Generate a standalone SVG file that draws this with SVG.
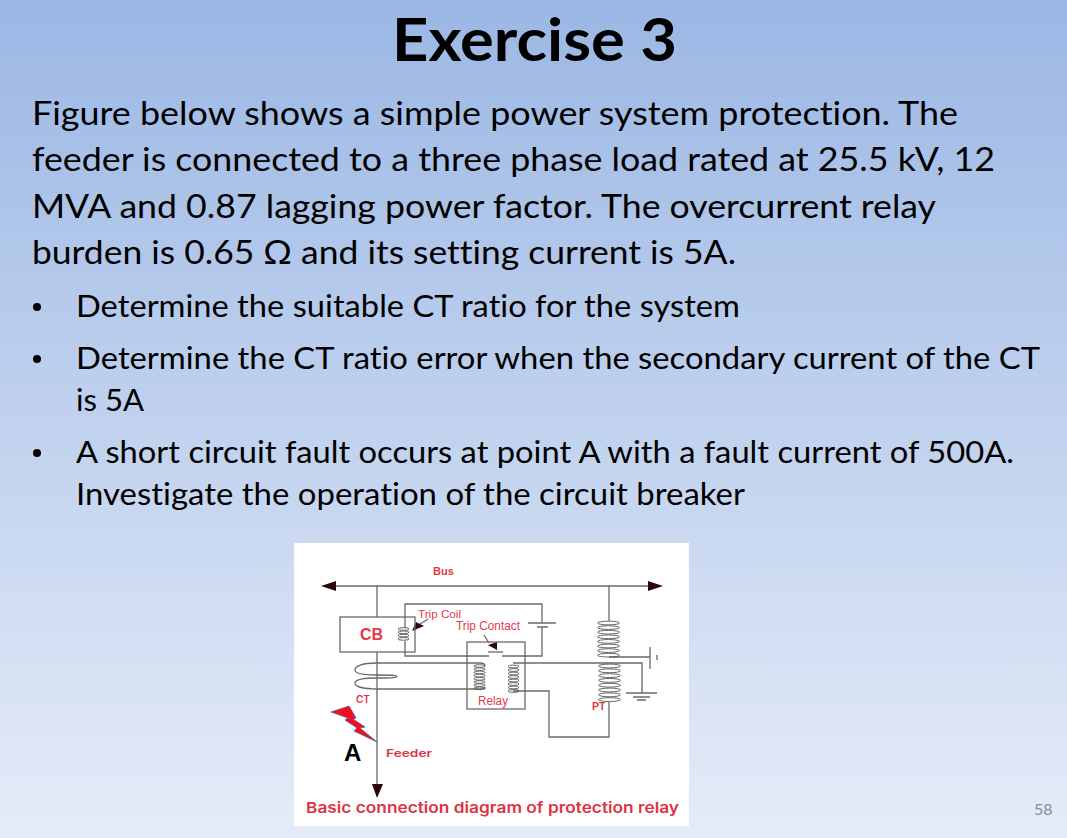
<svg xmlns="http://www.w3.org/2000/svg" width="1067" height="838" viewBox="0 0 1067 838">
<style>
.t{font-family:"Lato","Open Sans",sans-serif;fill:#000;font-variant-ligatures:none}
.b{font-size:33px}
.p{font-size:31px}
.d{font-family:"Liberation Sans",Arial,sans-serif;fill:#e23a45}
.w{font-family:"Inter","DejaVu Sans",sans-serif;font-weight:600;fill:#dd3344}
.l{fill:none;stroke:#6a6a6a;stroke-width:1.3}
ellipse{fill:none;stroke:#555;stroke-width:0.9;vector-effect:non-scaling-stroke}
.h{fill:#2e0508}
</style>
<defs>
<linearGradient id="bg" x1="0" y1="0" x2="0" y2="1"><stop offset="0" stop-color="#9bb7e4"/><stop offset="1" stop-color="#e5ecf8"/></linearGradient>
<g id="turn4"><ellipse cy="0" rx="1" ry="0.4"/><ellipse cy="1" rx="1" ry="0.4"/><ellipse cy="2" rx="1" ry="0.4"/><ellipse cy="3" rx="1" ry="0.4"/></g>
<g id="turn8"><use href="#turn4"/><use href="#turn4" y="4"/></g>
</defs>
<rect width="1067" height="838" fill="url(#bg)"/>
<g id="title"><text class="t" x="392" y="61" font-size="60" font-weight="bold" textLength="285" lengthAdjust="spacingAndGlyphs">Exercise 3</text></g>
<g id="paragraph">
<text class="t b" x="32" y="125" textLength="926" lengthAdjust="spacingAndGlyphs">Figure below shows a simple power system protection. The</text>
<text class="t b" x="32" y="171" textLength="963" lengthAdjust="spacingAndGlyphs">feeder is connected to a three phase load rated at 25.5 kV, 12</text>
<text class="t b" x="32" y="218" textLength="904" lengthAdjust="spacingAndGlyphs">MVA and 0.87 lagging power factor. The overcurrent relay</text>
<text class="t b" x="32" y="264" textLength="704" lengthAdjust="spacingAndGlyphs">burden is 0.65 Ω and its setting current is 5A.</text>
</g>
<g id="bullets">
<circle cx="37" cy="307" r="4"/><circle cx="37" cy="359" r="4"/><circle cx="37" cy="453" r="4"/>
<text class="t p" x="76" y="317" textLength="664" lengthAdjust="spacingAndGlyphs">Determine the suitable CT ratio for the system</text>
<text class="t p" x="76" y="369" textLength="964" lengthAdjust="spacingAndGlyphs">Determine the CT ratio error when the secondary current of the CT</text>
<text class="t p" x="76" y="411" textLength="68" lengthAdjust="spacingAndGlyphs">is 5A</text>
<text class="t p" x="76" y="463" textLength="938" lengthAdjust="spacingAndGlyphs">A short circuit fault occurs at point A with a fault current of 500A.</text>
<text class="t p" x="76" y="505" textLength="669" lengthAdjust="spacingAndGlyphs">Investigate the operation of the circuit breaker</text>
</g>
<rect x="294" y="543" width="395" height="283" fill="#fff"/>
<g id="connectors">
<path class="l" d="M330 586H652"/>
<path class="l" d="M377 586V617M377 652V785"/>
<path class="l" d="M405 628V604H542V623M542 627V656H502M489 656H405V641"/>
<path class="l" d="M377 663H480Q485 663 485 666M377 689H480Q485 689 485 687"/>
<path class="l" d="M513 663H642V693M513 691H549V737H609V702"/>
<path class="l" d="M609 586V621M609 657H650"/>
<path class="l" d="M528 623H556M537 627H548"/>
<path class="l" d="M650 647V669M657 655V660"/>
<path class="l" d="M626 693H657M633 697H650M637 700H646"/>
<path class="l" d="M488 652H503"/>
<path class="h" d="M321 586L336 581V591ZM663 586L648 581V591ZM377 798L372 784H383Z"/>
<path class="h" d="M412 631L416 622 424 626ZM488 645L497 642V650Z"/>
<path class="l" d="M420 624L428 619M489 643L484 635"/>
</g>
<g id="cb"><rect class="l" x="340" y="617" width="75" height="35"/><text class="d" x="360" y="640" font-size="16" font-weight="bold">CB</text></g>
<g id="trip-coil"><use href="#turn4" transform="translate(403.500 629) scale(5.500 3.300)"/><text class="d" x="418" y="618" font-size="11" textLength="43" lengthAdjust="spacingAndGlyphs">Trip Coil</text></g>
<g id="ct"><path class="l" d="M377 663C360 663 355 667 355 670 355 674 365 675 377 675 388 675 397 675 397 676.500 397 678 388 678 377 678 365 678 355 679 355 683 355 687 365 689 377 689"/><text class="w" x="356" y="703" font-size="10" font-weight="bold">CT</text></g>
<g id="relay"><rect class="l" x="467" y="642" width="58" height="67"/>
<use href="#turn8" transform="translate(479.500 666) scale(5.700 3.200)"/><use href="#turn8" transform="translate(513.500 666.500) scale(5.500 3.500)"/>
<text class="d" x="478" y="705" font-size="12" textLength="30" lengthAdjust="spacingAndGlyphs">Relay</text><text class="d" x="456" y="630" font-size="12" textLength="64" lengthAdjust="spacingAndGlyphs">Trip Contact</text></g>
<g id="pt"><use href="#turn8" transform="translate(608.500 623) scale(11 4.600)"/><use href="#turn8" transform="translate(609.500 666) scale(11 4.800)"/><text class="d" x="592" y="710" font-size="10.500" font-weight="bold">PT</text></g>
<g id="bus"><text class="d" x="433" y="575" font-size="11" font-weight="bold">Bus</text></g>
<g id="fault"><polygon points="331,712 349,706 356,718 353,719 365,727 360,728 377,742 354,731 357,728 345,720 348,718" fill="#f01020" stroke="#5a5a9a" stroke-width="0.800"/><text x="344" y="761" font-family="Liberation Sans,Arial,sans-serif" font-size="24" font-weight="bold">A</text></g>
<g id="feeder"><text class="w" x="386" y="757" font-size="11" textLength="46" lengthAdjust="spacingAndGlyphs">Feeder</text></g>
<g id="caption"><text class="w" x="306" y="813" font-size="15" textLength="373" lengthAdjust="spacingAndGlyphs">Basic connection diagram of protection relay</text></g>
<g id="page"><text x="1034" y="815" font-family="Lato,sans-serif" font-size="16" fill="#8a8a8a">58</text></g>
</svg>
